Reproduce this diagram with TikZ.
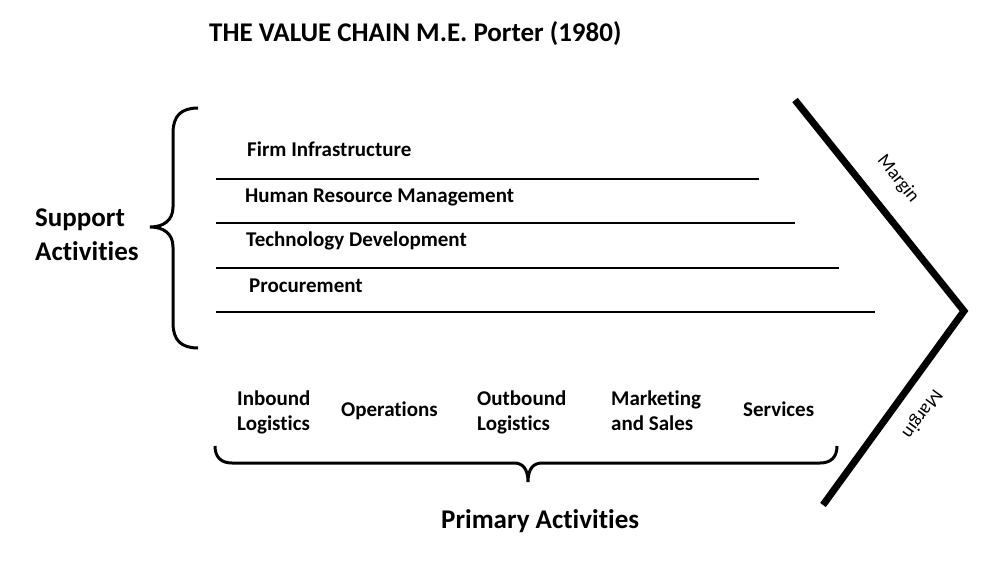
\documentclass[tikz,border=0pt]{standalone}
\usepackage{fontspec}
\setmainfont[Ligatures=NoCommon]{Carlito}
\begin{document}
\begin{tikzpicture}[x=1pt,y=-1pt,
  lbl/.style={inner sep=0pt,font=\bfseries\fontsize{21}{25}\selectfont,align=left},
  big/.style={inner sep=0pt,font=\bfseries\fontsize{27}{32}\selectfont,align=left},
  marg/.style={inner sep=0pt,font=\fontsize{19}{22}\selectfont},
  rule/.style={line width=2.2pt},
  brace/.style={line width=3pt},
  chev/.style={line width=7pt}]
\useasboundingbox (0,0) rectangle (1000,561);
% title
\node[big,anchor=base west] (title) at (209,42) {THE VALUE CHAIN M.E. Porter (1980)};
% support activities
\node[big,anchor=base west] (supp) at (35,227) {Support};
\node[big,anchor=base west] (acts) at (35,260) {Activities};
% left brace
\coordinate (lbT) at (198,108);
\coordinate (lbB) at (198,348);
\coordinate (lbM) at (150,227);
\draw[brace] (lbT) .. controls (181,108) and (173,116) .. (173,133) -- (173,207)
  .. controls (173,220) and (164,227) .. (lbM)
  .. controls (164,227) and (173,234) .. (173,247) -- (173,323)
  .. controls (173,340) and (181,348) .. (lbB);
% rules
\coordinate (r1a) at (216,179); \coordinate (r1b) at (759,179);
\coordinate (r2a) at (216,223); \coordinate (r2b) at (795,223);
\coordinate (r3a) at (216,268); \coordinate (r3b) at (839,268);
\coordinate (r4a) at (216,312); \coordinate (r4b) at (875,312);
\draw[rule] (r1a) -- (r1b);
\draw[rule] (r2a) -- (r2b);
\draw[rule] (r3a) -- (r3b);
\draw[rule] (r4a) -- (r4b);
% support labels
\node[lbl,anchor=base west] (fi) at (247,157) {Firm Infrastructure};
\node[lbl,anchor=base west] (hr) at (245,203) {Human Resource Management};
\node[lbl,anchor=base west] (td) at (246,247) {Technology Development};
\node[lbl,anchor=base west] (pr) at (249,292) {Procurement};
% primary labels
\node[lbl,anchor=base west] (inb) at (237,430) {Inbound\\Logistics};
\node[lbl,anchor=base west] (ops) at (341,416) {Operations};
\node[lbl,anchor=base west] (outb) at (477,430) {Outbound\\Logistics};
\node[lbl,anchor=base west] (mkt) at (611,430) {Marketing\\and Sales};
\node[lbl,anchor=base west] (srv) at (743,416) {Services};
% bottom brace
\coordinate (bbL) at (215,446);
\coordinate (bbR) at (837,446);
\coordinate (bbM) at (528,482);
\draw[brace] (bbL) .. controls (215,457) and (221,463) .. (232,463) -- (514,463)
  .. controls (522,463) and (528,468) .. (bbM)
  .. controls (528,468) and (534,463) .. (542,463) -- (820,463)
  .. controls (831,463) and (837,457) .. (bbR);
\node[big,anchor=base west] (prim) at (441,528) {Primary Activities};
% chevron
\coordinate (cT) at (795,100);
\coordinate (cM) at (964,311);
\coordinate (cB) at (823,505);
\draw[chev] (cT) -- (cM) -- (cB);
\node[marg,rotate=-51.3] (m1) at (898,179) {Margin};
\node[marg,rotate=-126] (m2) at (922,414) {Margin};
\end{tikzpicture}
\end{document}
